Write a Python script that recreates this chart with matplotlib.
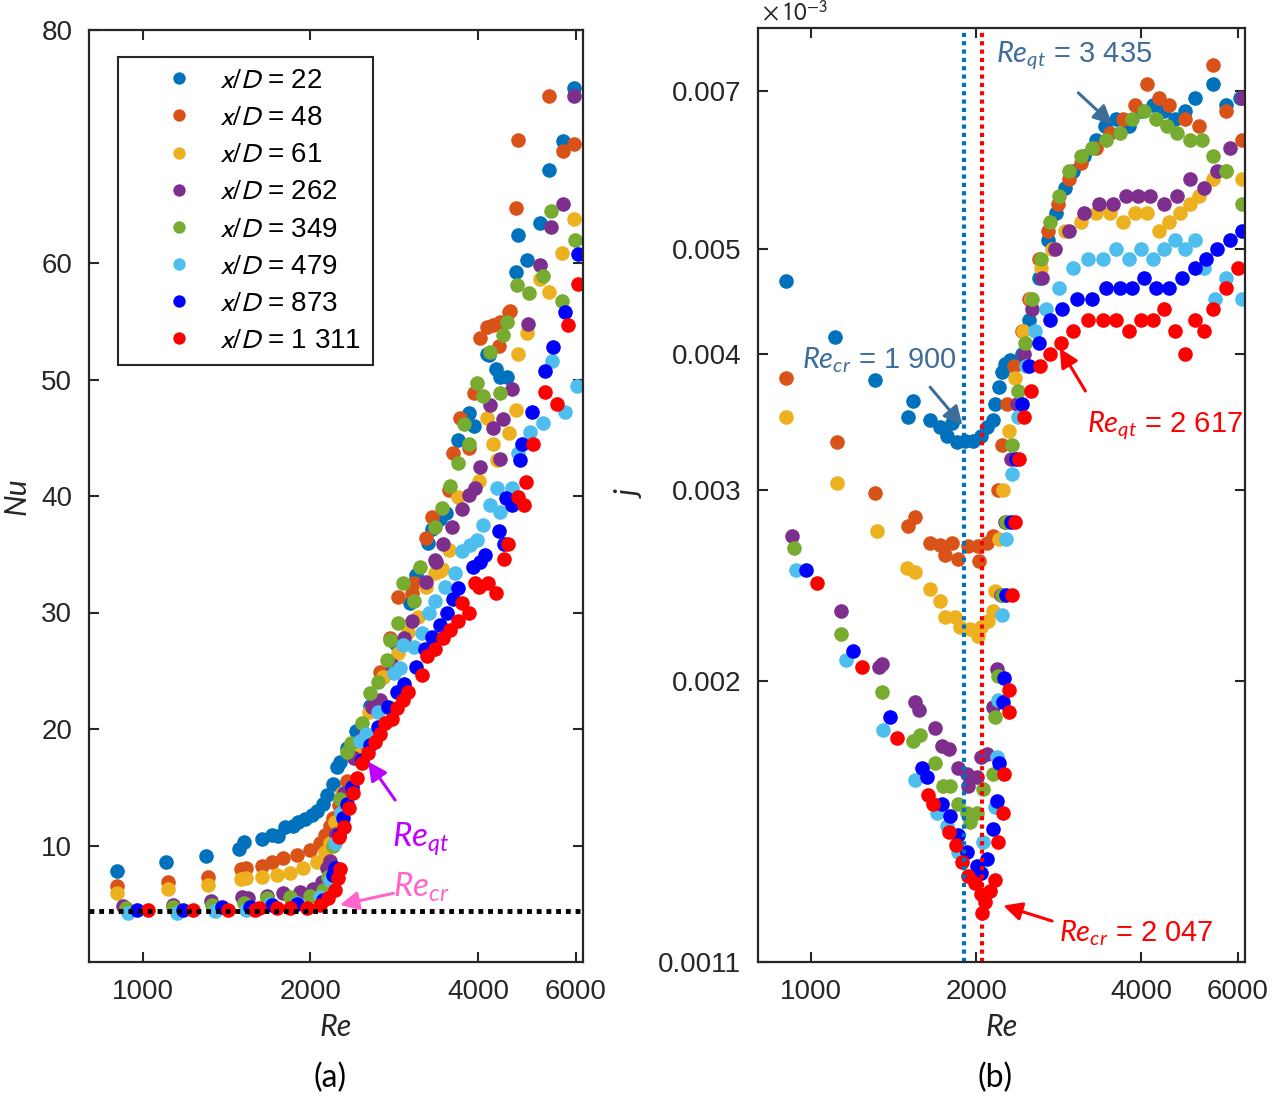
import matplotlib
matplotlib.use("Agg")
import matplotlib.pyplot as plt
from matplotlib.ticker import FixedLocator, FixedFormatter, NullLocator

plt.rcParams['font.family'] = ['Liberation Sans', 'DejaVu Sans']
plt.rcParams['mathtext.fontset'] = 'custom'
plt.rcParams['mathtext.rm'] = 'Lato'
plt.rcParams['mathtext.it'] = 'Lato:italic'

# ---------------- data: panel (a)  Nu vs Re ----------------
labels = ["22", "48", "61", "262", "349", "479", "873", "1 311"]
colors = ["#0072BD", "#D95319", "#EDB120", "#7E2F8E", "#77AC30", "#4DBEEE", "#0000FF", "#FF0000"]

re_a_22 = [898, 1100, 1298, 1488, 1518, 1636, 1706, 1750, 1800, 1860, 1900, 1955, 2013, 2055, 2105, 2140, 2195, 2230, 2260, 2330, 2420, 2560, 2700, 2850, 3020, 3100, 3250, 3310, 3420, 3500, 3690, 3860, 3940, 4160, 4190, 4310, 4384, 4520, 4690, 4720, 4910, 5176, 5370, 5680, 5960]
nu_22 = [7.8, 8.6, 9.1, 9.7, 10.3, 10.6, 10.9, 10.8, 11.6, 11.7, 12.0, 12.3, 12.6, 13.0, 13.6, 14.3, 15.3, 16.7, 17.2, 18.4, 19.8, 22.0, 24.5, 27.3, 30.8, 33.2, 36.0, 37.2, 38.0, 38.5, 44.8, 47.1, 46.0, 52.2, 52.1, 50.9, 50.2, 50.2, 59.2, 62.4, 60.3, 63.4, 68.0, 70.5, 75.0]

re_a_48 = [898, 1109, 1309, 1500, 1530, 1636, 1706, 1785, 1894, 1994, 2080, 2125, 2166, 2195, 2250, 2330, 2450, 2600, 2670, 2780, 2870, 3040, 3070, 3230, 3310, 3550, 3610, 3717, 3860, 3940, 4040, 4160, 4260, 4360, 4384, 4550, 4570, 4690, 4720, 5370, 5680, 5960]
nu_48 = [6.5, 6.9, 7.3, 8.0, 8.1, 8.2, 8.6, 8.9, 9.2, 9.6, 10.2, 10.9, 11.7, 12.4, 13.5, 15.5, 18.5, 22.0, 24.9, 27.8, 31.3, 31.7, 32.5, 36.4, 38.2, 40.5, 43.7, 46.7, 44.1, 48.8, 53.6, 54.5, 54.7, 52.9, 54.9, 55.8, 55.9, 64.7, 70.6, 74.3, 69.6, 70.2]

re_a_61 = [898, 1109, 1309, 1500, 1530, 1636, 1740, 1838, 1940, 2055, 2125, 2166, 2210, 2280, 2400, 2550, 2700, 2870, 2990, 3120, 3230, 3350, 3420, 3450, 3550, 3690, 4020, 4160, 4260, 4330, 4550, 4690, 4720, 4910, 5176, 5370, 5670, 5960]
nu_61 = [5.9, 6.3, 6.6, 7.1, 7.2, 7.3, 7.5, 7.6, 8.1, 8.6, 9.4, 10.2, 12.0, 14.5, 18.0, 21.5, 24.5, 26.5, 28.3, 29.6, 32.2, 33.4, 33.6, 33.7, 35.4, 39.9, 41.3, 46.7, 44.5, 43.1, 45.4, 47.4, 52.2, 54.0, 58.6, 57.5, 60.9, 63.8]

re_a_262 = [920, 1132, 1325, 1510, 1545, 1670, 1785, 1915, 2023, 2097, 2140, 2166, 2220, 2300, 2400, 2500, 2580, 2670, 2800, 2950, 3040, 3230, 3350, 3370, 3460, 3590, 3750, 3860, 3960, 4040, 4206, 4260, 4384, 4430, 4610, 4930, 5176, 5420, 5680, 5960]
nu_262 = [4.8, 4.9, 5.2, 5.6, 5.5, 5.7, 5.9, 6.0, 6.3, 6.9, 8.1, 8.7, 11.0, 14.5, 17.5, 19.5, 21.9, 22.5, 25.5, 27.8, 29.3, 32.6, 34.5, 34.3, 35.9, 37.3, 38.9, 40.1, 40.7, 42.5, 47.8, 45.8, 43.2, 46.6, 49.2, 54.8, 59.8, 63.1, 65.1, 74.3]

re_a_349 = [932, 1132, 1331, 1520, 1670, 1838, 1994, 2105, 2150, 2200, 2260, 2330, 2370, 2480, 2560, 2650, 2750, 2780, 2870, 2930, 3070, 3150, 3350, 3450, 3566, 3680, 3780, 3860, 3990, 4090, 4206, 4384, 4430, 4520, 4710, 4950, 5240, 5420, 5670, 5990]
nu_349 = [4.6, 4.7, 4.9, 5.1, 5.5, 5.6, 5.7, 6.2, 7.3, 10.0, 14.0, 18.0, 18.8, 20.5, 23.1, 24.0, 25.9, 27.6, 29.1, 32.5, 31.0, 33.9, 37.3, 39.0, 40.9, 42.8, 46.2, 44.5, 49.7, 48.6, 52.4, 48.8, 53.8, 54.9, 58.1, 57.4, 58.9, 64.5, 56.7, 62.0]

re_a_479 = [940, 1151, 1347, 1530, 1692, 1894, 2080, 2166, 2210, 2270, 2460, 2520, 2650, 2830, 2900, 2930, 3070, 3170, 3265, 3350, 3490, 3640, 3750, 3875, 3990, 4090, 4206, 4330, 4380, 4610, 4720, 4966, 5240, 5440, 5740, 6040]
nu_479 = [4.2, 4.2, 4.4, 4.5, 5.0, 5.1, 5.6, 7.0, 10.2, 12.8, 19.0, 19.6, 21.5, 24.8, 25.2, 27.2, 27.0, 28.2, 30.0, 31.0, 32.2, 33.4, 35.3, 35.8, 36.2, 37.5, 39.2, 40.7, 38.6, 40.7, 43.7, 45.5, 46.3, 51.6, 47.2, 49.4]

re_a_873 = [975, 1180, 1387, 1560, 1706, 1894, 2105, 2195, 2215, 2250, 2290, 2330, 2380, 2480, 2560, 2650, 2760, 2860, 2950, 3100, 3210, 3310, 3420, 3520, 3610, 3690, 3920, 4040, 4120, 4360, 4450, 4500, 4610, 4760, 4800, 5000, 5290, 5460, 5740, 6060]
nu_873 = [4.5, 4.5, 4.7, 4.7, 4.9, 5.0, 5.3, 7.5, 8.1, 10.9, 12.4, 13.6, 15.0, 17.3, 18.6, 20.2, 21.9, 23.2, 23.9, 25.3, 26.9, 27.9, 28.9, 30.0, 31.2, 32.1, 33.9, 34.3, 34.9, 37.0, 35.9, 39.8, 39.2, 43.1, 44.5, 47.2, 50.7, 52.8, 55.8, 60.8]

re_a_1311 = [1021, 1230, 1422, 1590, 1620, 1740, 1838, 1970, 2080, 2150, 2215, 2240, 2260, 2250, 2300, 2350, 2390, 2430, 2480, 2535, 2610, 2670, 2725, 2800, 2860, 2930, 2990, 3170, 3240, 3350, 3460, 3566, 3690, 3750, 3860, 3960, 4020, 4170, 4310, 4450, 4530, 4720, 4840, 4880, 5030, 5290, 5560, 5820, 6060]
nu_1311 = [4.5, 4.5, 4.5, 4.5, 4.6, 4.6, 4.6, 4.6, 4.9, 5.5, 6.2, 7.2, 8.0, 10.7, 11.6, 13.2, 14.5, 15.8, 17.1, 17.9, 18.9, 19.6, 20.5, 20.9, 21.8, 22.5, 23.2, 24.6, 26.3, 26.9, 27.8, 28.5, 29.3, 30.8, 30.0, 32.5, 32.2, 32.5, 31.7, 34.6, 35.9, 39.9, 39.2, 41.2, 44.5, 48.9, 47.9, 54.7, 58.2]

nu_laminar = 4.36

# ---------------- data: panel (b)  j vs Re ----------------
re_b_22 = [900, 1106, 1308, 1504, 1535, 1648, 1720, 1770, 1808, 1848, 1910, 1976, 2036, 2095, 2145, 2163, 2200, 2230, 2260, 2300, 2350, 2420, 2500, 2600, 2700, 2800, 2900, 3000, 3150, 3300, 3435, 3600, 3800, 4000, 4200, 4400, 4600, 4800, 5000, 5400, 5700, 6050]
j_22 = [0.00467, 0.00415, 0.00379, 0.00350, 0.00362, 0.00348, 0.00343, 0.00336, 0.00346, 0.00332, 0.00333, 0.00333, 0.00336, 0.00343, 0.00348, 0.00360, 0.00373, 0.00385, 0.00392, 0.00395, 0.00392, 0.00400, 0.00430, 0.00470, 0.00510, 0.00540, 0.00570, 0.00590, 0.00610, 0.00630, 0.00650, 0.00660, 0.00650, 0.00670, 0.00680, 0.00670, 0.00660, 0.00670, 0.00690, 0.00710, 0.00680, 0.00690]

re_b_48 = [900, 1115, 1308, 1504, 1545, 1648, 1720, 1757, 1808, 1855, 1935, 2015, 2020, 2095, 2145, 2190, 2230, 2280, 2340, 2420, 2500, 2600, 2700, 2820, 2950, 3100, 3300, 3500, 3700, 3900, 4100, 4300, 4500, 4800, 5100, 5400, 5700, 6100]
j_48 = [0.00380, 0.00332, 0.00298, 0.00278, 0.00283, 0.00268, 0.00267, 0.00261, 0.00268, 0.00259, 0.00266, 0.00266, 0.00258, 0.00268, 0.00272, 0.00300, 0.00330, 0.00360, 0.00390, 0.00420, 0.00450, 0.00490, 0.00520, 0.00550, 0.00580, 0.00600, 0.00620, 0.00640, 0.00660, 0.00680, 0.00710, 0.00690, 0.00680, 0.00660, 0.00650, 0.00740, 0.00670, 0.00630]

re_b_61 = [900, 1115, 1320, 1497, 1545, 1648, 1720, 1757, 1830, 1870, 1950, 2015, 2036, 2100, 2145, 2163, 2200, 2240, 2290, 2350, 2430, 2520, 2620, 2750, 2900, 3100, 3300, 3500, 3700, 3900, 4100, 4300, 4500, 4700, 4900, 5100, 5400, 5700, 6100]
j_61 = [0.00350, 0.00304, 0.00275, 0.00254, 0.00252, 0.00243, 0.00237, 0.00229, 0.00229, 0.00224, 0.00223, 0.00220, 0.00224, 0.00227, 0.00232, 0.00242, 0.00270, 0.00300, 0.00340, 0.00380, 0.00420, 0.00450, 0.00480, 0.00500, 0.00520, 0.00530, 0.00540, 0.00540, 0.00530, 0.00540, 0.00540, 0.00520, 0.00530, 0.00540, 0.00550, 0.00560, 0.00580, 0.00590, 0.00580]

re_b_262 = [923, 1133, 1330, 1347, 1548, 1570, 1683, 1735, 1780, 1855, 1925, 1935, 2010, 2036, 2095, 2145, 2180, 2220, 2260, 2310, 2370, 2440, 2530, 2640, 2780, 2950, 3150, 3350, 3550, 3750, 3950, 4150, 4400, 4650, 4900, 5200, 5500, 5800, 6100]
j_262 = [0.00272, 0.00232, 0.00206, 0.00207, 0.00191, 0.00188, 0.00181, 0.00174, 0.00173, 0.00166, 0.00164, 0.00160, 0.00163, 0.00170, 0.00171, 0.00189, 0.00205, 0.00240, 0.00280, 0.00320, 0.00360, 0.00400, 0.00440, 0.00470, 0.00500, 0.00520, 0.00540, 0.00550, 0.00550, 0.00560, 0.00560, 0.00560, 0.00550, 0.00560, 0.00580, 0.00570, 0.00590, 0.00620, 0.00690]

re_b_349 = [931, 1133, 1347, 1535, 1580, 1683, 1740, 1793, 1855, 1925, 1950, 2010, 2060, 2145, 2163, 2190, 2230, 2270, 2320, 2380, 2450, 2530, 2620, 2720, 2830, 2950, 3100, 3250, 3450, 3650, 3850, 4050, 4250, 4450, 4650, 4900, 5150, 5400, 5700, 6100]
j_349 = [0.00265, 0.00221, 0.00195, 0.00176, 0.00178, 0.00168, 0.00160, 0.00160, 0.00154, 0.00151, 0.00148, 0.00151, 0.00159, 0.00164, 0.00185, 0.00202, 0.00240, 0.00280, 0.00330, 0.00370, 0.00410, 0.00450, 0.00490, 0.00530, 0.00560, 0.00590, 0.00610, 0.00620, 0.00630, 0.00640, 0.00660, 0.00670, 0.00660, 0.00650, 0.00640, 0.00630, 0.00630, 0.00610, 0.00590, 0.00550]

re_b_479 = [938, 1158, 1354, 1548, 1697, 1770, 1855, 2060, 2163, 2180, 2190, 2230, 2270, 2320, 2380, 2460, 2560, 2680, 2830, 3000, 3200, 3400, 3600, 3800, 4000, 4200, 4400, 4600, 4800, 5000, 5200, 5450, 5700, 6100]
j_479 = [0.00253, 0.00209, 0.00180, 0.00162, 0.00151, 0.00147, 0.00139, 0.00142, 0.00153, 0.00170, 0.00192, 0.00230, 0.00270, 0.00310, 0.00350, 0.00390, 0.00420, 0.00440, 0.00460, 0.00480, 0.00490, 0.00490, 0.00500, 0.00490, 0.00500, 0.00490, 0.00500, 0.00510, 0.00500, 0.00510, 0.00480, 0.00450, 0.00470, 0.00450]

re_b_873 = [979, 1193, 1393, 1595, 1626, 1735, 1793, 1855, 1925, 2010, 2036, 2095, 2145, 2180, 2200, 2240, 2245, 2270, 2310, 2360, 2420, 2500, 2600, 2720, 2870, 3050, 3250, 3450, 3650, 3850, 4050, 4250, 4500, 4750, 5000, 5250, 5500, 5800, 6100]
j_873 = [0.00253, 0.00213, 0.00185, 0.00166, 0.00163, 0.00154, 0.00150, 0.00144, 0.00139, 0.00135, 0.00133, 0.00137, 0.00146, 0.00155, 0.00168, 0.00191, 0.00201, 0.00240, 0.00280, 0.00320, 0.00360, 0.00390, 0.00410, 0.00430, 0.00440, 0.00450, 0.00450, 0.00460, 0.00460, 0.00460, 0.00470, 0.00460, 0.00460, 0.00470, 0.00480, 0.00490, 0.00500, 0.00510, 0.00520]

re_b_1311 = [1025, 1239, 1434, 1634, 1669, 1780, 1840, 1885, 1935, 1990, 2036, 2047, 2077, 2120, 2163, 2190, 2240, 2250, 2290, 2295, 2320, 2350, 2390, 2440, 2520, 2617, 2720, 2850, 3000, 3200, 3400, 3600, 3800, 4000, 4200, 4400, 4600, 4800, 5000, 5200, 5400, 5700, 6000]
j_1311 = [0.00246, 0.00206, 0.00177, 0.00157, 0.00154, 0.00145, 0.00141, 0.00136, 0.00132, 0.00130, 0.00127, 0.00122, 0.00125, 0.00128, 0.00131, 0.00142, 0.00151, 0.00164, 0.00187, 0.00196, 0.00240, 0.00280, 0.00320, 0.00350, 0.00370, 0.00390, 0.00400, 0.00410, 0.00420, 0.00430, 0.00430, 0.00430, 0.00420, 0.00430, 0.00430, 0.00440, 0.00420, 0.00400, 0.00430, 0.00420, 0.00440, 0.00460, 0.00480]

re_cr_22 = 1900
re_cr_1311 = 2047

xticks = [1000, 2000, 4000, 6000]
nu_ticks = [10, 20, 30, 40, 50, 60, 80]
j_ticks = [0.0011, 0.002, 0.003, 0.004, 0.005, 0.007]
j_ticklabels = ["0.0011", "0.002", "0.003", "0.004", "0.005", "0.007"]

series_a = [(re_a_22, nu_22), (re_a_48, nu_48), (re_a_61, nu_61), (re_a_262, nu_262),
            (re_a_349, nu_349), (re_a_479, nu_479), (re_a_873, nu_873), (re_a_1311, nu_1311)]
series_b = [(re_b_22, j_22), (re_b_48, j_48), (re_b_61, j_61), (re_b_262, j_262),
            (re_b_349, j_349), (re_b_479, j_479), (re_b_873, j_873), (re_b_1311, j_1311)]

# ---------------- figure ----------------
W, H = 1285, 1097
fig = plt.figure(figsize=(W / 100, H / 100), dpi=100)
axA = fig.add_axes([89 / W, 1 - 962 / H, (583 - 89) / W, (962 - 30) / H])
axB = fig.add_axes([758 / W, 1 - 962 / H, (1245 - 758) / W, (962 - 28) / H])

TK = '#262626'
FS = 20
MS = 10.5
for ax in (axA, axB):
    ax.set_xscale('log')
    ax.set_xlim(800, 6180)
    ax.xaxis.set_major_locator(FixedLocator(xticks))
    ax.xaxis.set_major_formatter(FixedFormatter([str(v) for v in xticks]))
    ax.xaxis.set_minor_locator(NullLocator())
    ax.tick_params(which='both', direction='in', top=True, right=True, length=7, width=1.5,
                   labelsize=FS, colors=TK, pad=12)
    for s in ax.spines.values():
        s.set_linewidth(1.6)
        s.set_color(TK)
    ax.set_xlabel('Re', fontsize=FS + 2, family='Lato', style='italic', color=TK, labelpad=6)

# panel (a)
for (rx, ry), c, lab in zip(series_a, colors, labels):
    axA.plot(rx, ry, 'o', ms=MS, color=c, mec='none', label=r'$x/D$ = ' + lab)
axA.axhline(nu_laminar, color='black', lw=3.5, ls=(0, (1, 1)))
axA.set_ylim(0, 80)
axA.yaxis.set_major_locator(FixedLocator(nu_ticks))
axA.set_ylabel('Nu', fontsize=FS + 2, family='Lato', style='italic', color=TK, labelpad=8)

leg = axA.legend(loc='upper left', bbox_to_anchor=((118 - 89) / 494, (962 - 57) / 932),
                 borderaxespad=0, fontsize=FS, frameon=True, fancybox=False,
                 edgecolor=TK, framealpha=1, borderpad=0.4, labelspacing=0.40,
                 handlelength=3.6, handletextpad=-0.35, markerscale=0.85)
leg.get_frame().set_linewidth(1.5)
for t in leg.get_texts():
    t.set_math_fontfamily('stixsans')

ann_kw = dict(arrowstyle='-|>', lw=2.2, mutation_scale=28, shrinkA=0, shrinkB=0)
axA.annotate('', xy=(2540, 17.2), xytext=(2840, 13.9),
             arrowprops=dict(color='#C000FF', **ann_kw))
axA.text(3150, 10.6, r'$Re_{qt}$', color='#C000FF', fontsize=FS + 4, ha='center', va='center')
axA.annotate('', xy=(2260, 4.9), xytext=(2820, 5.9),
             arrowprops=dict(color='#FF66CC', **ann_kw))
axA.text(3170, 6.4, r'$Re_{cr}$', color='#FF66CC', fontsize=FS + 4, ha='center', va='center')

# panel (b)
for (rx, ry), c in zip(series_b, colors):
    axB.plot(rx, ry, 'o', ms=MS, color=c, mec='none')
axB.set_yscale('log')
axB.set_ylim(0.0011, 0.0080)
axB.yaxis.set_major_locator(FixedLocator(j_ticks))
axB.yaxis.set_major_formatter(FixedFormatter(j_ticklabels))
axB.yaxis.set_minor_locator(NullLocator())
axB.set_ylabel('j', fontsize=FS + 2, family='Lato', style='italic', color=TK, labelpad=10)
axB.axvline(re_cr_22, color='#0072BD', lw=3, ls=(0, (1, 1)))
axB.axvline(re_cr_1311, color='#FF0000', lw=3, ls=(0, (1, 1)))

steel = '#3F6D9A'
axB.annotate('', xy=(1887, 0.00344), xytext=(1648, 0.00373),
             arrowprops=dict(color=steel, **ann_kw))
axB.text(1331, 0.00395, r'$Re_{cr}$ = 1 900', color=steel, fontsize=FS + 1, ha='center', va='center')
axB.annotate('', xy=(3540, 0.00652), xytext=(3070, 0.00697),
             arrowprops=dict(color=steel, **ann_kw))
axB.text(3020, 0.00755, r'$Re_{qt}$ = 3 435', color=steel, fontsize=FS + 1, ha='center', va='center')
axB.annotate('', xy=(2840, 0.00405), xytext=(3162, 0.00370),
             arrowprops=dict(color='#FF0000', **ann_kw))
axB.text(4420, 0.00344, r'$Re_{qt}$ = 2 617', color='#FF0000', fontsize=FS + 1, ha='center', va='center')
axB.annotate('', xy=(2240, 0.00124), xytext=(2750, 0.00120),
             arrowprops=dict(color='#FF0000', **ann_kw))
axB.text(3910, 0.00117, r'$Re_{cr}$ = 2 047', color='#FF0000', fontsize=FS + 1, ha='center', va='center')

fig.text(762 / W, 1 - 1 / H, r'$\times\,10^{-3}$', fontsize=FS - 2, color=TK, ha='left', va='top',
         math_fontfamily='stixsans')

fig.text(330 / W, 1 - 1078 / H, '(a)', fontsize=FS + 3, family='Lato', ha='center', va='center', color='black')
fig.text(995 / W, 1 - 1078 / H, '(b)', fontsize=FS + 3, family='Lato', ha='center', va='center', color='black')

fig.savefig('out.png', dpi=100)
